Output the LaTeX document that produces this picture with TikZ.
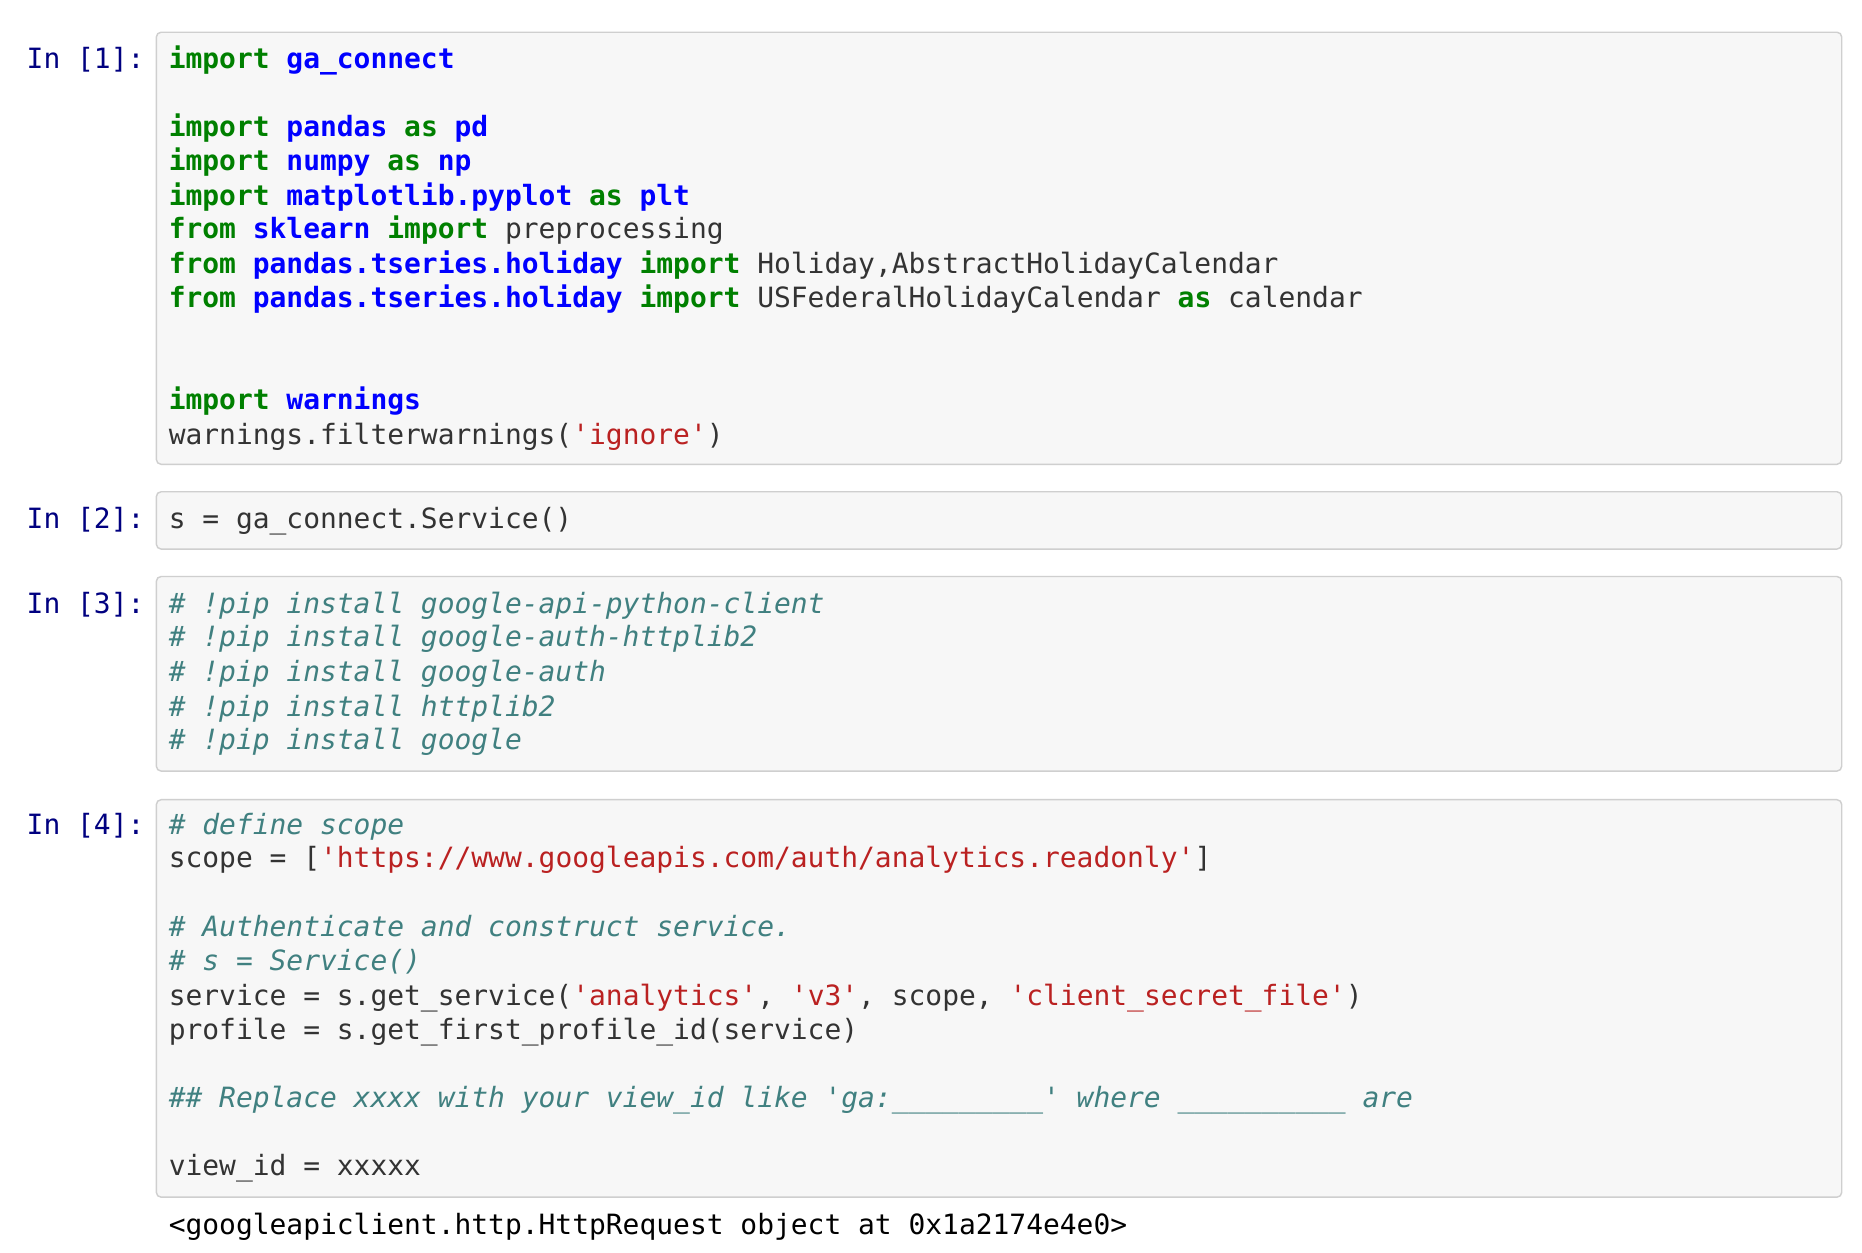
\documentclass[tikz,border=0pt]{standalone}
\usepackage{fontspec}
\setmonofont{DejaVu Sans Mono}
\definecolor{kw}{HTML}{008000}
\definecolor{nm}{HTML}{0000FF}
\definecolor{st}{HTML}{BA2121}
\definecolor{cm}{HTML}{408080}
\definecolor{pr}{HTML}{000080}
\definecolor{tx}{HTML}{333333}
\definecolor{cellbg}{HTML}{F7F7F7}
\definecolor{cellbd}{HTML}{CFCFCF}
\newcommand{\K}[1]{\textcolor{kw}{\bfseries #1}}
\newcommand{\N}[1]{\textcolor{nm}{\bfseries #1}}
\newcommand{\Sg}[1]{\textcolor{st}{#1}}
\newcommand{\Cm}[1]{\textcolor{cm}{\itshape #1}}
\begin{document}
\begin{tikzpicture}[x=0.5pt,y=-0.5pt,
  cell/.style={draw=cellbd,fill=cellbg,rounded corners=2pt,line width=0.6pt},
  code/.style={anchor=base west,inner sep=0pt,font=\ttfamily\fontsize{11.7}{14}\selectfont,text=tx},
  prompt/.style={code,text=pr}]
\useasboundingbox (0,0) rectangle (1560,1049);
\fill[white] (0,0) rectangle (1560,1049);
\draw[cell] (131,27) rectangle (1543,389);
\draw[cell] (131,412) rectangle (1543,460);
\draw[cell] (131,483) rectangle (1543,646);
\draw[cell] (131,670) rectangle (1543,1003);
\node[prompt] (p1) at (22,57) {In [1]:};
\node[prompt] (p2) at (22,443) {In [2]:};
\node[prompt] (p3) at (22,514) {In [3]:};
\node[prompt] (p4) at (22,699) {In [4]:};
\node[code] (a1) at (141,57) {\K{import} \N{ga\_connect}};
\node[code] (a2) at (141,114) {\K{import} \N{pandas} \K{as} \N{pd}};
\node[code] (a3) at (141,143) {\K{import} \N{numpy} \K{as} \N{np}};
\node[code] (a4) at (141,172) {\K{import} \N{matplotlib.pyplot} \K{as} \N{plt}};
\node[code] (a5) at (141,200) {\K{from} \N{sklearn} \K{import} preprocessing};
\node[code] (a6) at (141,229) {\K{from} \N{pandas.tseries.holiday} \K{import} Holiday,AbstractHolidayCalendar};
\node[code] (a7) at (141,258) {\K{from} \N{pandas.tseries.holiday} \K{import} USFederalHolidayCalendar \K{as} calendar};
\node[code] (a8) at (141,343) {\K{import} \N{warnings}};
\node[code] (a9) at (141,372) {warnings.filterwarnings(\Sg{'ignore'})};
\node[code] (b1) at (141,443) {s = ga\_connect.Service()};
\node[code] (c1) at (141,514) {\Cm{\# !pip install google-api-python-client}};
\node[code] (c2) at (141,542) {\Cm{\# !pip install google-auth-httplib2}};
\node[code] (c3) at (141,571) {\Cm{\# !pip install google-auth}};
\node[code] (c4) at (141,600) {\Cm{\# !pip install httplib2}};
\node[code] (c5) at (141,628) {\Cm{\# !pip install google}};
\node[code] (d1) at (141,699) {\Cm{\# define scope}};
\node[code] (d2) at (141,727) {scope = [\Sg{'https://www.googleapis.com/auth/analytics.readonly'}]};
\node[code] (d3) at (141,785) {\Cm{\# Authenticate and construct service.}};
\node[code] (d4) at (141,813) {\Cm{\# s = Service()}};
\node[code] (d5) at (141,842) {service = s.get\_service(\Sg{'analytics'}, \Sg{'v3'}, scope, \Sg{'client\_secret\_file'})};
\node[code] (d6) at (141,871) {profile = s.get\_first\_profile\_id(service)};
\node[code] (d7) at (141,928) {\Cm{\#\# Replace xxxx with your view\_id like 'ga:\_\_\_\_\_\_\_\_\_' where \_\_\_\_\_\_\_\_\_\_ are}};
\node[code] (d8) at (141,985) {view\_id = xxxxx};
\node[code,text=black] (o1) at (141,1034) {<googleapiclient.http.HttpRequest object at 0x1a2174e4e0>};
\end{tikzpicture}
\end{document}
